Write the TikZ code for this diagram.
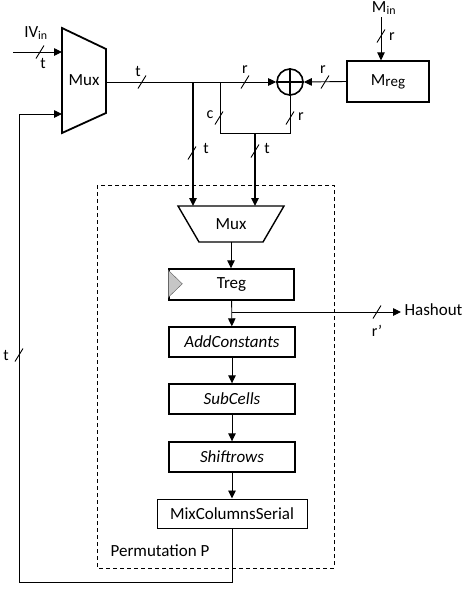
\documentclass[tikz,border=0pt]{standalone}
\usepackage{fontspec}
\setmainfont{Carlito}
\usetikzlibrary{calc,arrows.meta}

\begin{document}
\begin{tikzpicture}[x=1pt,y=-1pt,font=\fontsize{17}{20}\selectfont]
\tikzstyle{box}=[draw,line width=1.4pt,minimum width=126pt,minimum height=30pt,inner sep=0pt]
\tikzstyle{wire}=[line width=0.9pt]
\tikzstyle{arr}=[wire,-{Triangle[length=8pt,width=7.5pt]}]
\tikzstyle{thickarr}=[arr,line width=1.6pt]
\tikzstyle{buslbl}=[inner sep=0pt,font=\fontsize{16}{18}\selectfont]
\tikzset{slash/.pic={\draw[line width=0.9pt] (-4,6.5) -- (4,-6.5);}}

\useasboundingbox (0,0) rectangle (474,595);

% input multiplexer
\draw[line width=1.8pt] (62,28) -- (106,49) -- (106,113) -- (62,133) -- cycle;
\node (mux1) at (84,80) {Mux};
\coordinate (mux1in) at (62,52);
\coordinate (mux1fb) at (62,114);
\coordinate (mux1out) at (106,82);
\coordinate (ivstart) at (13,52);

\node (ivin) at (36,33) {IV\textsubscript{in}};
\draw[arr] (ivstart) -- (mux1in);
\pic at (40,52) {slash};
\node[buslbl] (tiv) at (43,63) {t};

% message register and xor
\node[draw,line width=1.2pt,minimum width=82pt,minimum height=41pt] (mreg) at (388,81.5)
     {M\raisebox{-1pt}{\fontsize{15}{15}\selectfont reg}};
\node (min) at (384,8) {M\textsubscript{in}};
\coordinate (minstart) at (381,17);
\draw[arr] (minstart) -- (minstart |- mreg.north);
\pic at (381,36) {slash};
\node[buslbl] (rmin) at (392,37) {r};

\node[circle,draw,line width=1.6pt,minimum size=26pt,inner sep=0pt] (xor) at (290,82) {};
\draw[line width=1.6pt] (xor.north) -- (xor.south) (xor.west) -- (xor.east);

% state line
\coordinate (j1) at (193,82);
\coordinate (j2) at (220,82);
\coordinate (c1) at (220,133);
\coordinate (c2) at (290,133);
\coordinate (c3) at (255,133);
\draw[wire] (mux1out) -- (j2);
\draw[arr] (j2) -- (xor.west);
\draw[arr] (mreg.west) -- (xor.east);
\draw[wire] (j2) -- (c1) -- (c2) -- (xor.south);
\pic at (142,82) {slash};
\node[buslbl] (tout) at (138,71) {t};
\pic at (245,82) {slash};
\node[buslbl] (rx1) at (245,70) {r};
\pic at (325,82) {slash};
\node[buslbl] (rx2) at (323,70) {r};
\pic at (219,118) {slash};
\node[buslbl] (cc) at (210,115) {c};
\pic at (290,118) {slash};
\node[buslbl] (rx3) at (301,117) {r};

% permutation P
\draw[line width=1pt,dash pattern=on 4pt off 3pt] (97,185) rectangle (334,568);
\node (perm) at (160,551) {Permutation P};

\draw[line width=1.4pt] (178,206) -- (284,206) -- (263,242) -- (199,242) -- cycle;
\node (mux2) at (231,224) {Mux};
\coordinate (mux2a) at (193,206);
\coordinate (mux2b) at (255,206);
\coordinate (mux2out) at (231,242);
\draw[thickarr] (j1) -- (mux2a);
\draw[thickarr] (c3) -- (mux2b);
\pic at (192,153) {slash};
\node[buslbl] (ta) at (206,148) {t};
\pic at (255,151) {slash};
\node[buslbl] (tb) at (267,148) {t};

\node[box,minimum width=125pt,minimum height=31pt] (treg) at (231.5,284.5) {Treg};
\fill[gray!45,draw=gray!70!black] (treg.north west) ++(0,2) -- ++(14,13.5) -- ++(-14,13.5) -- cycle;
\node[box] (addc) at (232,342) {\itshape AddConstants};
\node[box] (subc) at (232,399) {\itshape SubCells};
\node[box] (shift) at (232,457) {\itshape Shiftrows};
\node[draw,line width=1pt,minimum width=150pt,minimum height=29pt] (mix) at (232,513.5) {MixColumnsSerial};

\draw[arr] (mux2out) -- (treg.north -| mux2out);
\draw[arr] (treg) -- (addc);
\draw[arr] (addc) -- (subc);
\draw[arr] (subc) -- (shift);
\draw[arr] (shift) -- (mix);

% hash output
\node[anchor=west] (hash) at (401,310) {Hashout};
\coordinate (hj) at (232,312);
\draw[arr] (hj) -- (hj -| hash.west);
\pic at (377,312) {slash};
\node[buslbl] (rp) at (377,331) {r'};

% feedback
\coordinate (fbcorner) at (19,582);
\draw[wire] (mix.south) |- (fbcorner);
\draw[arr] (fbcorner) |- (mux1fb);
\pic at (19,355) {slash};
\node[buslbl] (tfb) at (6,355) {t};
\end{tikzpicture}
\end{document}
